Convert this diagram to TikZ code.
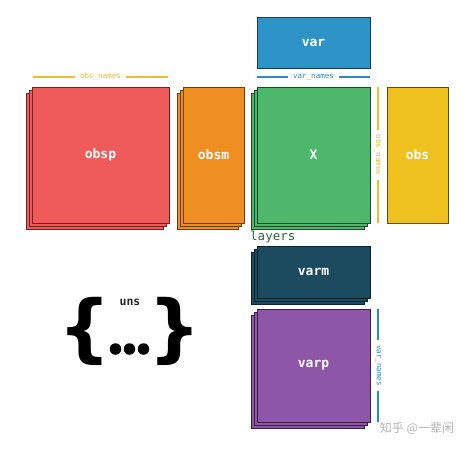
\documentclass[tikz,border=0pt]{standalone}
\usepackage{fontspec}
\setmainfont{DejaVu Sans}
\setmonofont{DejaVu Sans Mono}
\newfontfamily\cjkfont{Noto Sans CJK SC}
\usetikzlibrary{shadows}
\definecolor{cRed}{HTML}{EF5B5B}
\definecolor{cRedD}{HTML}{6E2424}
\definecolor{cOrange}{HTML}{EF8F21}
\definecolor{cOrangeD}{HTML}{6A3F0E}
\definecolor{cGreen}{HTML}{4DB86C}
\definecolor{cGreenD}{HTML}{1F4A2A}
\definecolor{cYellow}{HTML}{EEC11F}
\definecolor{cYellowD}{HTML}{5E4B10}
\definecolor{cBlue}{HTML}{2E93C6}
\definecolor{cBlueD}{HTML}{153E55}
\definecolor{cTeal}{HTML}{1C4A5E}
\definecolor{cTealD}{HTML}{0C222C}
\definecolor{cPurple}{HTML}{8D56A6}
\definecolor{cPurpleD}{HTML}{3A2046}
\definecolor{cLineY}{HTML}{E6C02E}
\definecolor{cLineB}{HTML}{2A8CBE}
\definecolor{cLayers}{HTML}{2C6A3C}
\tikzset{
  box/.style n args={4}{draw=#2, fill=#1, line width=0.9pt, minimum width=#3, minimum height=#4,
    inner sep=0pt, text=white, font=\ttfamily\bfseries\fontsize{13}{13}\selectfont},
  stack/.style={double copy shadow={shadow xshift=-2.6pt, shadow yshift=-3pt}},
  dimlbl/.style={fill=white, inner xsep=5pt, inner ysep=1.5pt, font=\ttfamily\fontsize{7.5}{7.5}\selectfont},
  dimline/.style={line width=2.2pt},
  brace/.style={inner sep=0pt, font=\fontsize{74}{74}\selectfont\bfseries},
  dot/.style={circle, fill=black, minimum size=11.5pt, inner sep=0pt},
}
\begin{document}
\begin{tikzpicture}[x=1pt,y=-1pt]
\useasboundingbox[fill=white] (0,0) rectangle (474,448);

% matrices
\node[box={cRed}{cRedD}{137pt}{136pt}, stack] (obsp) at (100.5,155) {obsp};
\node[box={cOrange}{cOrangeD}{61pt}{136pt}, stack] (obsm) at (213.5,155) {obsm};
\node[box={cGreen}{cGreenD}{113pt}{136pt}, stack] (X) at (313.5,155) {X};
\node[box={cYellow}{cYellowD}{61pt}{136pt}] (obs) at (417.5,155) {obs};
\node[box={cBlue}{cBlueD}{113pt}{51pt}] (var) at (313.5,42.5) {var};
\node[box={cTeal}{cTealD}{113pt}{52pt}, stack] (varm) at (313.5,272) {varm};
\node[box={cPurple}{cPurpleD}{113pt}{113pt}, stack] (varp) at (313.5,365.5) {varp};

% layers label
\node[anchor=west, inner sep=0pt, text=cLayers, font=\ttfamily\fontsize{12.5}{12.5}\selectfont] (layers) at (250,237) {layers};

% dimension lines
\coordinate (on1) at (33,77); \coordinate (on2) at (168,77);
\draw[dimline, draw=cLineY] (on1) -- (on2) node[midway, dimlbl, text=cLineY] (obsnamesT) {obs\_names};
\coordinate (vn1) at (257,77); \coordinate (vn2) at (370,77);
\draw[dimline, draw=cLineB] (vn1) -- (vn2) node[midway, dimlbl, text=cLineB] (varnamesT) {var\_names};
\coordinate (ov1) at (378,87); \coordinate (ov2) at (378,223);
\draw[dimline, draw=cLineY] (ov1) -- (ov2) node[midway, dimlbl, text=cLineY, rotate=-90] (obsnamesR) {obs\_names};
\coordinate (vv1) at (378,309); \coordinate (vv2) at (378,422);
\draw[dimline, draw=cLineB] (vv1) -- (vv2) node[midway, dimlbl, text=cLineB, rotate=-90] (varnamesR) {var\_names};

% uns
\node[brace] (lbrace) at (85,331) {\{};
\node[brace] (rbrace) at (175,331) {\}};
\node[inner sep=0pt, font=\ttfamily\bfseries\fontsize{11.5}{11.5}\selectfont, text=black!85] (uns) at (130,302) {uns};
\node[dot] (d1) at (115.5,349) {};
\node[dot] (d2) at (129.5,349) {};
\node[dot] (d3) at (143.5,349) {};

% watermark
\node[inner sep=0pt, text=black!30, font=\cjkfont\fontsize{12}{12}\selectfont] (wm) at (417,428) {知乎 @一辈闲};
\end{tikzpicture}
\end{document}
